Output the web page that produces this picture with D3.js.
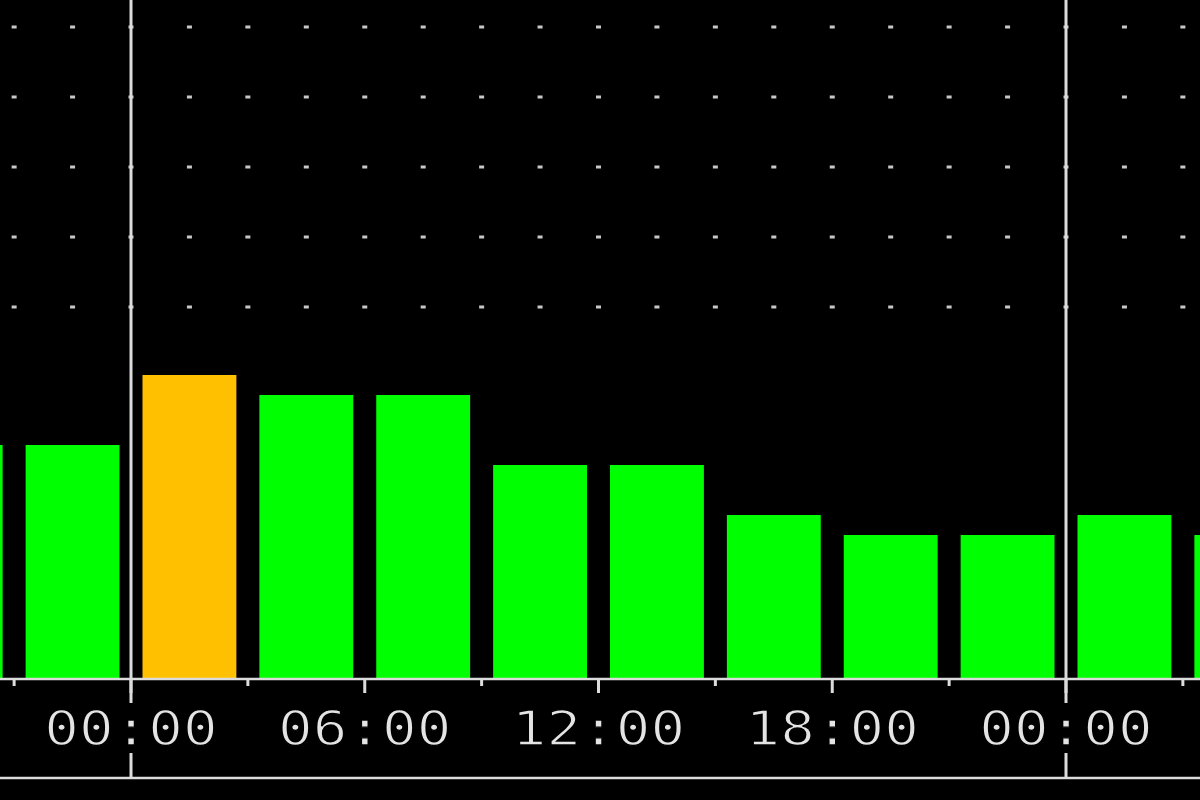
<!DOCTYPE html>
<html>
<head>
<meta charset="utf-8">
<script src="https://cdn.jsdelivr.net/npm/d3@7"></script>
<style>
  html, body { margin: 0; padding: 0; background: #000; }
  svg { display: block; }
</style>
</head>
<body>
<svg id="chart" width="1200" height="800"></svg>
<script>
// ---- data ----
const barStarts = [
  "2024-05-01T18:00", "2024-05-01T21:00",
  "2024-05-02T00:00", "2024-05-02T03:00", "2024-05-02T06:00", "2024-05-02T09:00",
  "2024-05-02T12:00", "2024-05-02T15:00", "2024-05-02T18:00", "2024-05-02T21:00",
  "2024-05-03T00:00", "2024-05-03T03:00"
];
const barValues = [11.7, 11.7, 15.2, 14.2, 14.2, 10.7, 10.7, 8.2, 7.2, 7.2, 8.2, 7.2];
const barStatus = ["normal", "normal", "high", "normal", "normal", "normal",
                   "normal", "normal", "normal", "normal", "normal", "normal"];
const dayBoundaries = ["2024-05-02T00:00", "2024-05-03T00:00"];
const tickLabels = ["00:00", "06:00", "12:00", "18:00", "00:00"];
const labelTimes = ["2024-05-02T00:00", "2024-05-02T06:00", "2024-05-02T12:00",
                    "2024-05-02T18:00", "2024-05-03T00:00"];
const gridValues = [18.6, 22.1, 25.6, 29.1, 32.6];
const yMax = 33.95;
const barHours = 3;
const gridStepMinutes = 90;

// ---- setup ----
const W = 1200, H = 800;
const baseY = 679, bottomY = 778;
const parse = d3.timeParse("%Y-%m-%dT%H:%M");
const svg = d3.select("#chart");
svg.append("rect").attr("width", W).attr("height", H).attr("fill", "#000");

const days = dayBoundaries.map(parse);
const x = d3.scaleTime().domain(days).range([131, 1066]);
const y = d3.scaleLinear().domain([0, yMax]).range([baseY, 0]);
const tStart = x.invert(0), tEnd = x.invert(W);

const colors = { normal: "#00ff00", high: "#ffc000" };
const lineColor = "#dcdcdc";

// dotted grid
const dotTimes = d3.range(-4, 20).map(i => new Date(+days[0] + i * gridStepMinutes * 60000))
  .filter(t => t >= tStart && t <= tEnd);
const dots = [];
gridValues.forEach(v => dotTimes.forEach(t => dots.push({ t, v })));
svg.append("g").selectAll("rect").data(dots).join("rect")
  .attr("x", d => x(d.t) - 2.5).attr("y", d => y(d.v) - 1.5)
  .attr("width", 5).attr("height", 3)
  .attr("fill", "#c8c8c8");

// bars
const bars = barStarts.map((s, i) => {
  const t0 = parse(s);
  return { t0, t1: d3.timeHour.offset(t0, barHours), v: barValues[i], s: barStatus[i] };
});
const pad = 11.5;
svg.append("g").selectAll("rect").data(bars).join("rect")
  .attr("x", d => x(d.t0) + pad)
  .attr("width", d => x(d.t1) - x(d.t0) - 2 * pad)
  .attr("y", d => y(d.v))
  .attr("height", d => y(0) - y(d.v))
  .attr("fill", d => colors[d.s]);

// axis baseline
svg.append("line").attr("x1", 0).attr("x2", W).attr("y1", baseY).attr("y2", baseY)
  .attr("stroke", lineColor).attr("stroke-width", 2.5);

// ticks
const tickTimes = d3.timeHour.every(3).range(tStart, tEnd);
svg.append("g").selectAll("line").data(tickTimes).join("line")
  .attr("x1", d => x(d)).attr("x2", d => x(d))
  .attr("y1", baseY)
  .attr("y2", d => baseY + (d.getHours() % 6 === 0 ? 14 : 7))
  .attr("stroke", lineColor).attr("stroke-width", 3);

// day separator lines
svg.append("g").selectAll("line").data(days).join("line")
  .attr("x1", d => x(d)).attr("x2", d => x(d))
  .attr("y1", 0).attr("y2", bottomY)
  .attr("stroke", lineColor).attr("stroke-width", 3);

// bottom line
svg.append("line").attr("x1", 0).attr("x2", W).attr("y1", bottomY).attr("y2", bottomY)
  .attr("stroke", lineColor).attr("stroke-width", 2.5);

// labels
const lg = svg.append("g").selectAll("g").data(labelTimes.map((t, i) => ({ t: parse(t), label: tickLabels[i] })))
  .join("g").attr("transform", d => `translate(${x(d.t)},0)`);
lg.append("rect").attr("x", -88).attr("width", 176).attr("y", 703).attr("height", 50).attr("fill", "#000");
lg.append("text")
  .attr("transform", "scale(1.2,1)")
  .attr("x", 0).attr("y", 745)
  .attr("text-anchor", "middle")
  .attr("font-family", "DejaVu Sans Mono")
  .attr("font-size", 48)
  .attr("fill", "#e4e4e4")
  .attr("stroke", "#000")
  .attr("stroke-width", 1.4)
  .text(d => d.label);
</script>
</body>
</html>
